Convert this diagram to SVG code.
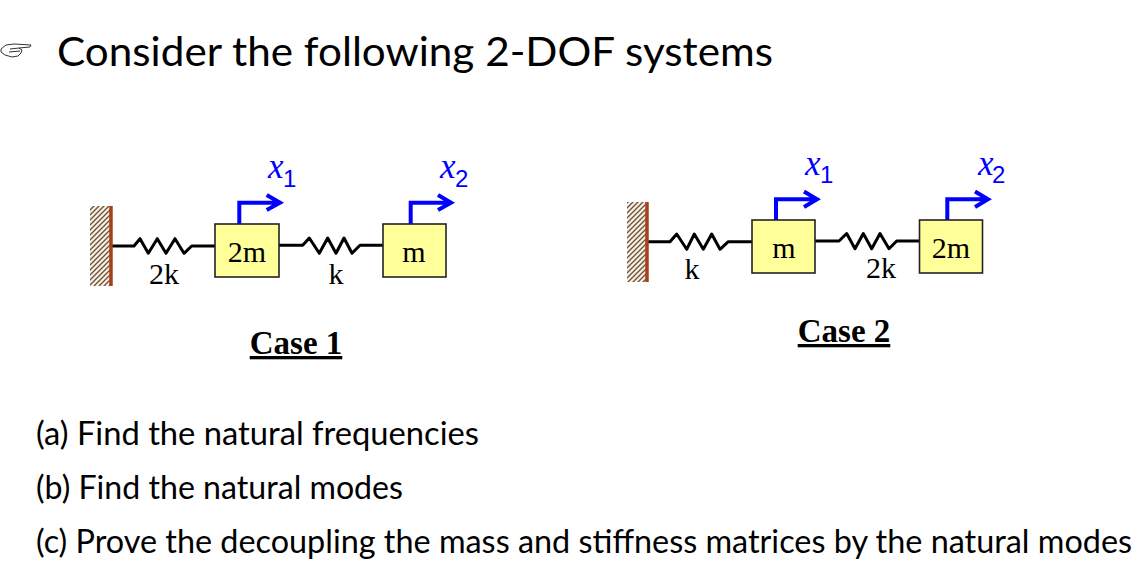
<svg xmlns="http://www.w3.org/2000/svg" width="1141" height="580" viewBox="0 0 1141 580">
<style>
.title{font-family:"Lato","Open Sans",sans-serif;font-size:40px;fill:#000}
.body{font-family:"Lato","Open Sans",sans-serif;font-size:32px;fill:#000}
.lbl{font-family:"Liberation Serif",serif;font-size:30px;fill:#000;text-anchor:middle}
.case{font-family:"Liberation Serif",serif;font-size:33px;font-weight:bold;fill:#000;text-decoration:underline;text-anchor:middle}
.x{font-family:"Liberation Serif",serif;font-style:italic;font-size:35px;fill:#0000ff}
.sub{font-family:"Liberation Sans",sans-serif;font-size:24px;fill:#0000ff}
.box{fill:#ffff99;stroke:#222;stroke-width:1.6}
.wire{fill:none;stroke:#000;stroke-width:3;stroke-linejoin:round}
.arr{fill:none;stroke:#0000ff;stroke-width:4}
.wallline{stroke:#a5401a;stroke-width:3.5}
.hatch{fill:url(#h)}
</style>
<defs>
<pattern id="h" width="5" height="5" patternUnits="userSpaceOnUse">
<rect width="5" height="5" fill="#f6efe6"/>
<path d="M-1 1L1 -1M0 5L5 0M4 6L6 4" stroke="#6e4e34" stroke-width="1.3"/>
</pattern>
</defs>
<g id="pointer" fill="#fff" stroke="#333" stroke-width="1">
<path d="M1 49L6 45L14 44L31 45L30 47L19 48L22 50L21 53L18 56L12 57L5 55L1 52Z"/>
<path d="M10 49L19 48M9 52L20 51" fill="none"/>
</g>
<text class="title" x="57" y="66" textLength="716" lengthAdjust="spacingAndGlyphs">Consider the following 2-DOF systems</text>

<g id="connectors">
<path class="wire" d="M111 246H134L140 238.7L148.3 253.3L157.3 238.7L166 253.3L175 238.7L184 253.3L191.7 246H215"/>
<path class="wire" d="M279 245.3H302.7L309.3 238L319.3 253.3L327.7 238L336 253.3L344 238L352 253.3L360 245.3H383"/>
<path class="wire" d="M648 241.7H670L676.7 234L686.7 249.3L694.3 234L703.3 249.3L711.7 234L720 249.3L728.3 241.7H752"/>
<path class="wire" d="M815 241H839L846.7 233.5L855 248.7L863.3 233.5L871.7 248.7L880 233.5L889 248.7L896.7 241H920"/>
<path class="arr" d="M239.3 225V202.7H280M266.7 195L280 202.7L266.7 210"/>
<path class="arr" d="M410.7 225V202.7H451M438 195L451 202.7L438 210"/>
<path class="arr" d="M776 221V199.3H817M804 191.5L817 199.3L804 207"/>
<path class="arr" d="M947.3 221V199.3H988M975 191.5L988 199.3L975 207"/>
</g>

<g id="wall1"><rect class="hatch" x="90" y="206" width="21" height="80"/><line class="wallline" x1="111" y1="206" x2="111" y2="286"/></g>
<g id="wall2"><rect class="hatch" x="627" y="202" width="20" height="80"/><line class="wallline" x1="647" y1="202" x2="647" y2="282"/></g>

<g id="c1m1"><rect class="box" x="215" y="224" width="64" height="53"/><text class="lbl" x="247" y="262">2m</text></g>
<g id="c1m2"><rect class="box" x="383" y="224" width="63" height="53"/><text class="lbl" x="414" y="262">m</text></g>
<g id="c2m1"><rect class="box" x="752" y="220" width="63" height="53"/><text class="lbl" x="784" y="258">m</text></g>
<g id="c2m2"><rect class="box" x="919.5" y="220" width="63" height="53"/><text class="lbl" x="951" y="258">2m</text></g>

<text class="lbl" x="164" y="284">2k</text>
<text class="lbl" x="336" y="284">k</text>
<text class="lbl" x="692" y="279">k</text>
<text class="lbl" x="881" y="278">2k</text>

<text class="x" x="268" y="178">x</text><text class="sub" x="283" y="187">1</text>
<text class="x" x="440" y="178">x</text><text class="sub" x="455" y="187">2</text>
<text class="x" x="805" y="175">x</text><text class="sub" x="820" y="183">1</text>
<text class="x" x="978" y="175">x</text><text class="sub" x="992" y="183">2</text>

<text class="case" x="296" y="354">Case 1</text>
<text class="case" x="844" y="342">Case 2</text>

<text class="body" x="36" y="445" textLength="443" lengthAdjust="spacingAndGlyphs">(a) Find the natural frequencies</text>
<text class="body" x="36" y="499" textLength="367" lengthAdjust="spacingAndGlyphs">(b) Find the natural modes</text>
<text class="body" x="36" y="553" textLength="1096" lengthAdjust="spacingAndGlyphs">(c) Prove the decoupling the mass and stiffness matrices by the natural modes</text>
</svg>
